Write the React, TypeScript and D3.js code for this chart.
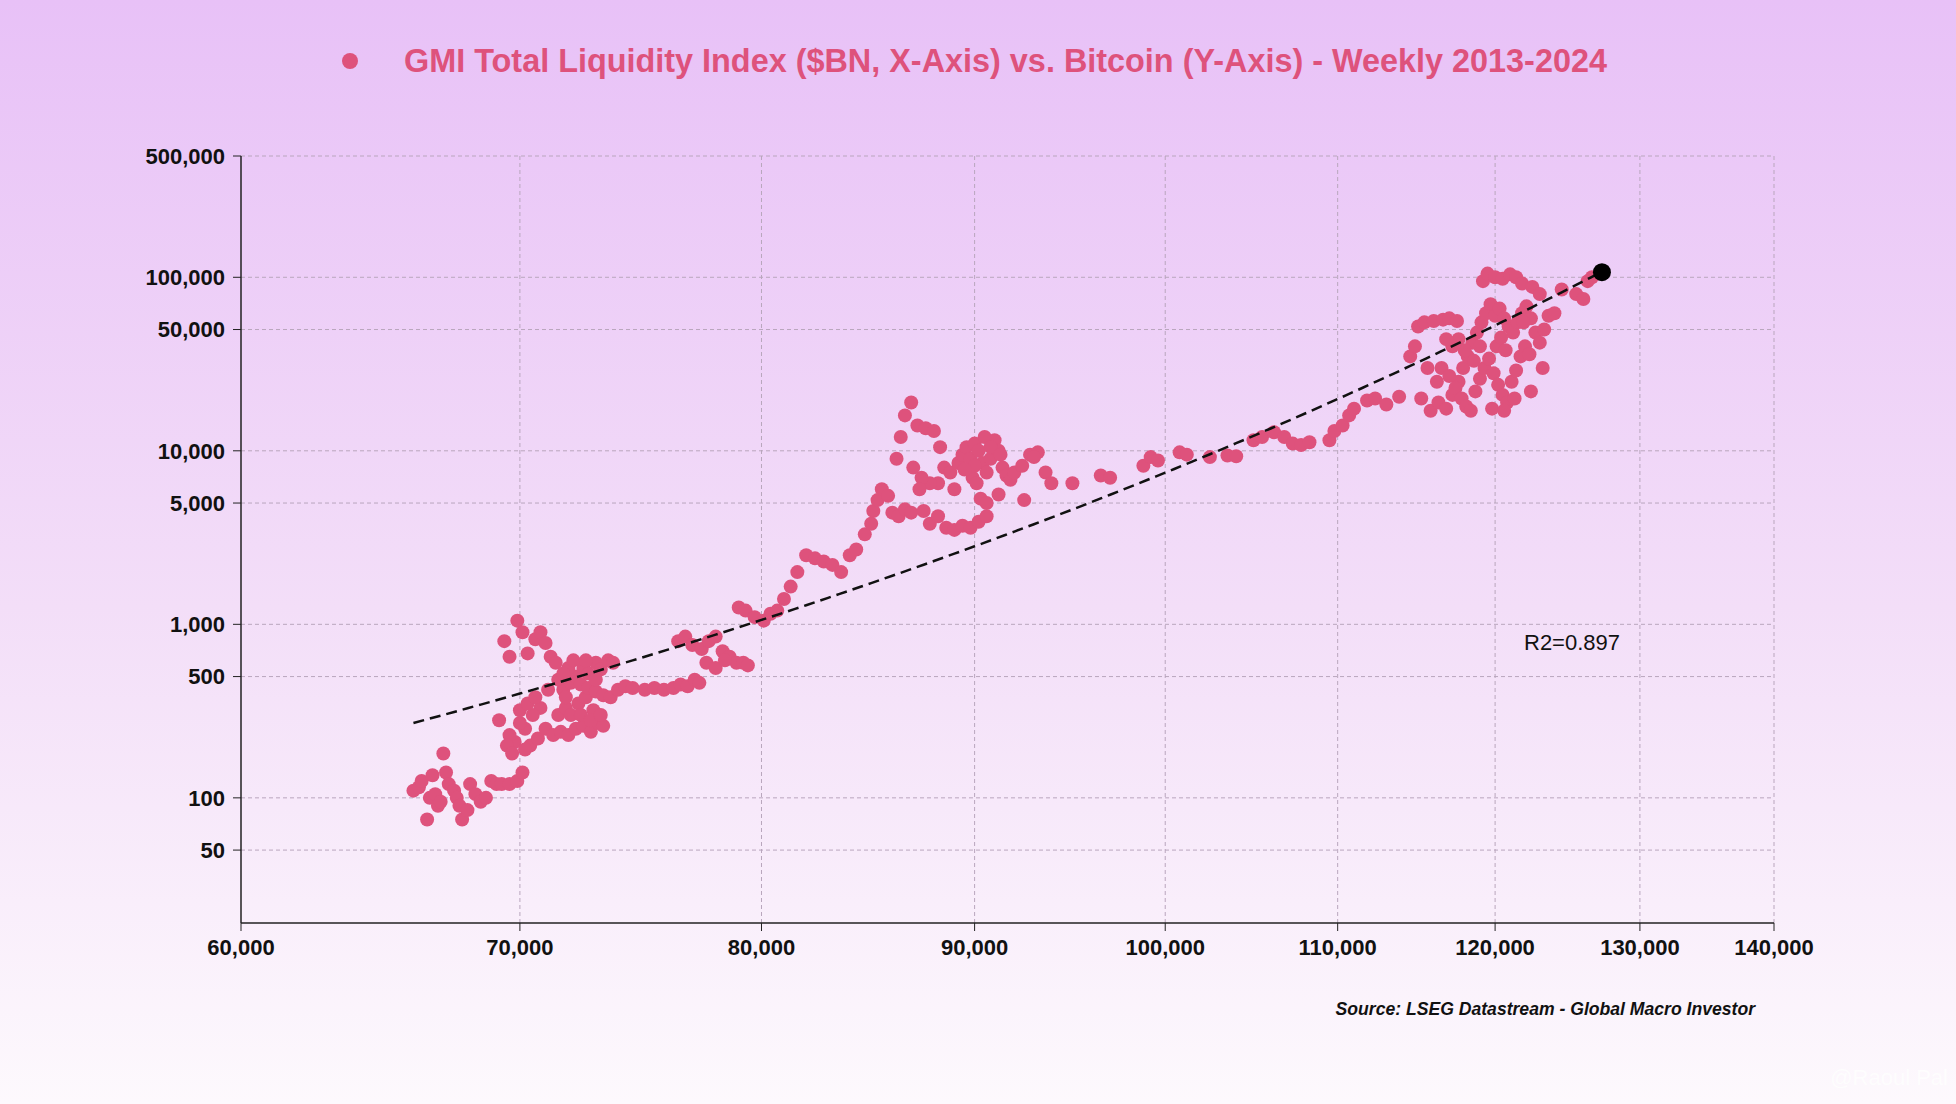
import * as d3 from 'd3';

// GMI Total Liquidity ($BN, thousands) vs Bitcoin price, weekly 2013-2024
const POINTS: [number, number][] = [
  [66.0, 110], [66.2, 115], [66.3, 125], [66.5, 75], [66.6, 100], [66.7, 135], [66.8, 105], [66.9, 90],
  [67.0, 95], [67.1, 180], [67.2, 140], [67.3, 120], [67.5, 110], [67.6, 100], [67.7, 90], [67.8, 75],
  [68.0, 85], [68.1, 120], [68.3, 105], [68.5, 95], [68.7, 100], [68.9, 125], [69.1, 120], [69.3, 120],
  [69.6, 120], [69.9, 125], [70.1, 140],
  [69.2, 280], [69.4, 800], [69.6, 650], [69.9, 1050], [70.1, 900], [70.3, 680], [70.6, 820], [70.8, 900],
  [71.0, 780], [71.2, 650], [71.4, 600], [71.1, 420], [70.8, 330], [70.5, 300], [70.2, 250], [69.8, 210],
  [69.6, 230], [70.0, 270], [70.4, 200], [70.7, 220], [71.0, 250], [71.3, 230], [71.6, 240], [71.9, 230],
  [72.2, 250], [72.5, 260], [72.8, 240], [73.1, 270], [73.3, 260],
  [69.5, 200], [69.7, 180], [70.2, 190], [70.0, 320], [70.3, 350], [70.6, 380], [71.5, 300], [71.8, 330],
  [72.0, 300], [72.3, 350], [72.6, 380], [72.9, 320], [71.7, 420], [72.0, 460], [72.2, 500], [72.5, 560],
  [72.7, 520], [73.0, 600], [73.2, 550], [73.5, 620], [73.7, 600], [71.9, 560], [72.1, 620], [72.4, 450],
  [72.7, 430], [73.0, 410], [73.3, 390], [73.6, 380], [73.9, 420], [74.2, 440], [71.8, 380], [72.4, 300],
  [72.8, 280], [73.2, 300], [73.0, 480], [72.6, 620], [71.5, 480], [71.7, 520],
  [74.5, 430], [75.0, 420], [75.4, 430], [75.8, 420], [76.2, 430], [76.5, 450], [76.8, 440], [77.1, 480],
  [77.3, 460], [76.4, 800], [76.7, 850], [77.0, 760], [77.4, 720], [77.7, 800], [78.0, 850], [78.3, 700],
  [78.6, 650], [78.9, 600], [79.2, 600], [79.4, 580], [77.6, 600], [78.0, 560], [78.4, 620], [79.0, 1250],
  [79.3, 1200], [79.7, 1100], [80.1, 1050], [80.4, 1150], [80.7, 1200], [81.0, 1400], [81.3, 1650],
  [81.6, 2000], [82.0, 2500], [82.4, 2400], [82.8, 2300], [83.2, 2200], [83.6, 2000], [84.0, 2500],
  [84.3, 2700], [84.7, 3300], [85.0, 3800], [85.1, 4500], [85.3, 5200], [85.5, 6000], [85.8, 5500],
  [86.0, 4400], [86.3, 4200], [86.6, 4600], [86.9, 4400], [86.2, 9000], [86.4, 12000], [86.6, 16000],
  [86.9, 19000], [87.2, 14000], [87.6, 13500], [88.0, 13000], [88.3, 10500], [88.5, 8000], [88.2, 6500],
  [87.8, 6500], [87.4, 7000], [87.5, 4500], [87.8, 3800], [88.2, 4200], [88.6, 3600], [89.0, 3500],
  [89.4, 3700], [89.8, 3600], [90.2, 3900], [90.6, 4200], [87.0, 8000], [87.3, 6000], [88.8, 7500],
  [89.0, 6000], [89.2, 8500], [89.4, 9500], [89.6, 10500], [89.8, 9000], [90.0, 11000], [90.2, 10000],
  [90.4, 8500], [90.6, 7500], [90.8, 9000], [91.0, 11500], [91.2, 10000], [91.4, 8000], [91.6, 7200],
  [91.8, 6800], [89.9, 7000], [90.1, 6500], [90.5, 12000], [90.8, 10500], [91.3, 9500], [90.3, 5300],
  [90.6, 5000], [91.2, 5600], [90.0, 8200], [89.5, 7800], [92.0, 7500], [92.4, 8200], [92.8, 9500],
  [93.2, 9800], [93.6, 7500], [93.9, 6500], [92.5, 5200], [93.0, 9200],
  [95.0, 6500], [96.5, 7200], [97.0, 7000], [98.8, 8200], [99.2, 9200], [99.6, 8800], [100.8, 9800],
  [101.2, 9500], [102.5, 9200], [103.5, 9400], [104.0, 9300], [105.0, 11500], [105.5, 12000],
  [106.2, 12800], [106.8, 12000], [107.3, 11000], [107.8, 10800], [108.3, 11200], [109.5, 11500],
  [109.8, 13000], [110.3, 14000], [110.7, 16000], [111.0, 17500], [111.8, 19500], [112.3, 20000],
  [113.0, 18500], [113.8, 20500], [114.5, 35000], [114.8, 40000], [115.0, 52000], [115.4, 55000],
  [116.0, 56000], [116.6, 57000], [117.0, 58000], [117.5, 56000], [115.2, 20000], [115.8, 17000],
  [116.3, 19000], [116.8, 17500], [117.2, 21000], [117.6, 25000], [117.9, 30000], [118.2, 35000],
  [118.5, 42000], [118.8, 48000], [119.1, 55000], [119.4, 62000], [119.7, 70000], [120.0, 60000],
  [120.3, 66000], [120.6, 58000], [120.9, 52000], [121.2, 48000], [121.5, 55000], [121.8, 62000],
  [122.1, 68000], [122.4, 58000], [122.7, 48000], [123.0, 42000], [123.3, 50000], [123.6, 60000],
  [124.0, 62000], [119.2, 95000], [119.5, 105000], [120.0, 100000], [120.5, 98000], [121.0, 104000],
  [121.4, 100000], [121.8, 92000], [122.5, 88000], [123.0, 80000], [124.5, 85000], [125.5, 80000],
  [126.3, 95000], [126.6, 100000], [126.0, 75000],
  [116.5, 30000], [117.0, 27000], [117.4, 23000], [117.8, 20000], [118.1, 18000], [118.4, 17000],
  [118.7, 22000], [119.0, 26000], [119.3, 30000], [119.6, 34000], [119.9, 28000], [120.2, 24000],
  [120.5, 21000], [120.8, 19000], [121.1, 25000], [121.4, 29000], [121.7, 35000], [122.0, 40000],
  [122.3, 36000], [120.1, 40000], [120.4, 45000], [120.7, 38000], [119.0, 40000], [118.6, 33000],
  [118.0, 38000], [117.6, 44000], [117.2, 40000], [116.8, 44000], [116.2, 25000], [115.6, 30000],
  [119.8, 17500], [120.6, 17000], [121.3, 20000], [122.4, 22000], [123.2, 30000], [121.9, 55000],
];
const LAST_POINT: [number, number] = [127.3, 107000];

const X_TICKS = [60000, 70000, 80000, 90000, 100000, 110000, 120000, 130000, 140000];
const Y_TICKS = [50, 100, 500, 1000, 5000, 10000, 50000, 100000, 500000];

// exponential regression
const FIT_START = 66.0;
const FIT_END = 127.0;
const FIT_A = 270;
const FIT_B = 0.0977;

const W = 1956;
const H = 1104;
const PINK = '#de527c';

export default function App() {
  const margin = { top: 156, right: 182, bottom: 181, left: 241 };
  const x = d3.scaleLog().domain([60000, 140000]).range([margin.left, W - margin.right]);
  const y = d3.scaleLog().domain([19, 500000]).range([H - margin.bottom, margin.top]);
  const fmt = d3.format(',');

  const fitXs = d3.range(FIT_START, FIT_END + 0.01, 0.5);
  const fitLine = d3.line<number>()
    .x(d => x(d * 1000))
    .y(d => y(FIT_A * Math.exp(FIT_B * (d - FIT_START))));

  const font = 'Liberation Sans, Arial, sans-serif';

  return (
    <div style={{ position: 'fixed', left: 0, top: 0 }}>
      <svg width={W} height={H} style={{ display: 'block', fontFamily: font }}>
        <defs>
          <linearGradient id="bg" x1="0" y1="0" x2="0" y2="1">
            <stop offset="0%" stopColor="#e8c1f7" />
            <stop offset="55%" stopColor="#f3def8" />
            <stop offset="100%" stopColor="#fdf9fd" />
          </linearGradient>
        </defs>
        <rect width={W} height={H} fill="url(#bg)" />

        {/* Title */}
        <circle cx={350} cy={61} r={8} fill={PINK} />
        <text x={404} y={72} fontSize={32.4} fontWeight="bold" fill={PINK}>
          GMI Total Liquidity Index ($BN, X-Axis) vs. Bitcoin (Y-Axis) - Weekly 2013-2024
        </text>

        {/* Grid */}
        {X_TICKS.slice(1).map(t => (
          <line key={'gx' + t} x1={x(t)} x2={x(t)} y1={margin.top} y2={H - margin.bottom}
            stroke="#b9a6bd" strokeDasharray="4,3" strokeWidth={1} />
        ))}
        {Y_TICKS.map(t => (
          <line key={'gy' + t} x1={margin.left} x2={W - margin.right} y1={y(t)} y2={y(t)}
            stroke="#b9a6bd" strokeDasharray="4,3" strokeWidth={1} />
        ))}

        {/* Axes */}
        <line x1={margin.left} x2={margin.left} y1={margin.top} y2={H - margin.bottom} stroke="#222" strokeWidth={1.5} />
        <line x1={margin.left} x2={W - margin.right} y1={H - margin.bottom} y2={H - margin.bottom} stroke="#222" strokeWidth={1.5} />
        {X_TICKS.map(t => (
          <g key={'xt' + t}>
            <line x1={x(t)} x2={x(t)} y1={H - margin.bottom} y2={H - margin.bottom + 8} stroke="#222" />
            <text x={x(t)} y={H - margin.bottom + 32} textAnchor="middle" fontSize={22} fontWeight="bold" fill="#111">
              {fmt(t)}
            </text>
          </g>
        ))}
        {Y_TICKS.map(t => (
          <g key={'yt' + t}>
            <line x1={margin.left - 8} x2={margin.left} y1={y(t)} y2={y(t)} stroke="#222" />
            <text x={margin.left - 16} y={y(t)} dy="0.35em" textAnchor="end" fontSize={22} fontWeight="bold" fill="#111">
              {fmt(t)}
            </text>
          </g>
        ))}

        {/* Points */}
        {POINTS.map(([px, py], i) => (
          <circle key={i} cx={x(px * 1000)} cy={y(py)} r={7} fill={PINK} />
        ))}

        {/* Trend */}
        <path d={fitLine(fitXs) ?? ''} fill="none" stroke="#111" strokeWidth={2.5} strokeDasharray="11,6" />
        <circle cx={x(LAST_POINT[0] * 1000)} cy={y(LAST_POINT[1])} r={9} fill="#000" />

        <text x={1524} y={650} fontSize={22} fill="#111">R2=0.897</text>

        <text x={1755} y={1015} textAnchor="end" fontSize={17.6} fontWeight="bold" fontStyle="italic" fill="#111">
          Source: LSEG Datastream - Global Macro Investor
        </text>
        <text x={1948} y={1085} textAnchor="end" fontSize={22} fill="#ffffff" opacity={0.8}>@Raoul Pal</text>
      </svg>
    </div>
  );
}
